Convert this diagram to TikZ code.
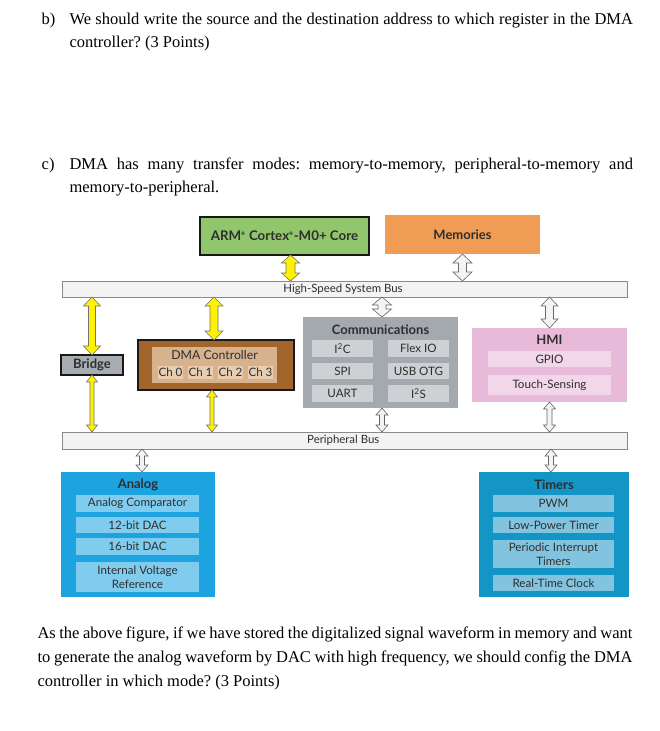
\documentclass[tikz,border=0pt]{standalone}
\usepackage{fontspec}
\setmainfont{Liberation Serif}
\newfontfamily\df{Lato}
\usetikzlibrary{calc}
\definecolor{txt}{HTML}{2E2E2E}
\definecolor{armgreen}{HTML}{92C66C}
\definecolor{memorange}{HTML}{F09C55}
\definecolor{busfill}{HTML}{F3F3F3}
\definecolor{busline}{HTML}{8A8A8A}
\definecolor{ayellow}{HTML}{FFF200}
\definecolor{awhite}{HTML}{F4F4F4}
\definecolor{bridgegray}{HTML}{A8ADB4}
\definecolor{dmabrown}{HTML}{A2652C}
\definecolor{dmainner}{HTML}{D7B28D}
\definecolor{dmach}{HTML}{E8CDB1}
\definecolor{commgray}{HTML}{A4A9AF}
\definecolor{commitem}{HTML}{CED1D4}
\definecolor{hmipink}{HTML}{E6BAD8}
\definecolor{hmiitem}{HTML}{F1D7E9}
\definecolor{analogblue}{HTML}{1CA3E0}
\definecolor{analogitem}{HTML}{80CCEF}
\definecolor{timerblue}{HTML}{1395C6}
\definecolor{timeritem}{HTML}{82C4E0}
\newcommand\biarrow[7]{\path[#1] let \p1=(#2), \p2=(#3), \p3=(#4) in
  (\x1,\y2) -- (\x1+#6,\y2-#7) -- (\x1+#5,\y2-#7) -- (\x1+#5,\y3+#7) -- (\x1+#6,\y3+#7)
  -- (\x1,\y3) -- (\x1-#6,\y3+#7) -- (\x1-#5,\y3+#7) -- (\x1-#5,\y2-#7) -- (\x1-#6,\y2-#7) -- cycle;}
\newcommand\regf{\df\fontsize{11.6}{14}\selectfont}
\newcommand\bldf{\df\bfseries\fontsize{13}{14}\selectfont}
\tikzset{
  blk/.style={anchor=north west, inner sep=0pt, outer sep=0pt, text=txt, align=center, font=\regf},
  box/.style n args={3}{blk, fill=#1, minimum width=#2pt, minimum height=#3pt},
  ttl/.style={inner sep=0pt, text=txt, font=\bldf},
  qtext/.style={anchor=base west, inner sep=0pt, font=\fontsize{16.5}{23.7}\selectfont},
  yel/.style={fill=ayellow, draw=black!55, line width=0.6pt},
  wht/.style={fill=awhite, draw=black!60, line width=0.6pt},
  bus/.style={blk, fill=busfill, draw=busline, line width=0.8pt, minimum width=565pt}
}
\frenchspacing
\begin{document}
\begin{tikzpicture}[x=1pt,y=-1pt]
\useasboundingbox[fill=white] (0,0) rectangle (660,731);

% question texts
\node[qtext] (qb) at (41.5,24) {b)};
\node[qtext] (qb1) at (69.3,24) {\makebox[563.5pt][s]{We should write the source and the destination address to which register in the DMA}};
\node[qtext] (qb2) at (69.3,47.7) {controller? (3 Points)};
\node[qtext] (qc) at (41.5,169) {c)};
\node[qtext] (qc1) at (69.3,169) {\makebox[563.5pt][s]{DMA has many transfer modes: memory-to-memory, peripheral-to-memory and}};
\node[qtext] (qc2) at (69.3,192.7) {memory-to-peripheral.};
\node[qtext] (qd1) at (37.3,638.3) {\makebox[595pt][s]{As the above figure, if we have stored the digitalized signal waveform in memory and want}};
\node[qtext] (qd2) at (37.3,662.3) {\makebox[595pt][s]{to generate the analog waveform by DAC with high frequency, we should config the DMA}};
\node[qtext] (qd3) at (37.3,686.3) {controller in which mode? (3 Points)};

% top blocks
\node[box={armgreen}{169}{38}, draw=black!90, line width=2.5pt, font=\df\bfseries\fontsize{13.3}{14}\selectfont] (arm) at (200,217)
  {ARM\textsuperscript{\tiny ®} Cortex\textsuperscript{\tiny ®}-M0+ Core};
\node[box={memorange}{155}{39}, font=\bldf] (mem) at (385,215) {Memories};

% buses
\node[bus, minimum height=16pt] (hsb) at (62,281) {};
\node[text=txt, font=\df\fontsize{11.4}{12}\selectfont, inner sep=0pt] (hsbl) at (343,289.5) {High-Speed System Bus};
\node[bus, minimum height=17pt] (pb) at (62,432) {};
\node[anchor=west, text=txt, font=\df\fontsize{11.4}{12}\selectfont, inner sep=0pt] (pbl) at (307,440.5) {Peripheral Bus};

% bridge
\node[box={bridgegray}{62}{20}, draw=black!90, line width=2pt, font=\bldf] (bridge) at (61,355) {Bridge};

% DMA controller
\node[box={dmabrown}{156}{50}, draw=black!90, line width=2pt] (dma) at (138,340) {};
\node[box={dmainner}{125}{36}] (dmain) at (152,347) {};
\node[ttl, font=\df\fontsize{12.3}{13}\selectfont] (dmat) at (214.5,355) {DMA Controller};
\node[box={dmach}{25}{13}] (ch0) at (158,366) {Ch 0};
\node[box={dmach}{25}{13}] (ch1) at (188,366) {Ch 1};
\node[box={dmach}{25}{13}] (ch2) at (218,366) {Ch 2};
\node[box={dmach}{25}{13}] (ch3) at (248,366) {Ch 3};

% communications
\node[box={commgray}{155}{91}] (comm) at (303,317) {};
\node[ttl] (commt) at (380.5,330) {Communications};
\node[box={commitem}{61}{17}] (i2c) at (312,340) {I\textsuperscript{2}C};
\node[box={commitem}{61}{17}] (flex) at (388,340) {Flex IO};
\node[box={commitem}{61}{16}] (spi) at (312,363) {SPI};
\node[box={commitem}{61}{16}] (usb) at (388,363) {USB OTG};
\node[box={commitem}{61}{17}] (uart) at (312,385) {UART};
\node[box={commitem}{61}{17}] (i2s) at (388,385) {I\textsuperscript{2}S};

% HMI
\node[box={hmipink}{155}{74}] (hmi) at (472,328) {};
\node[ttl] (hmit) at (549.5,340) {HMI};
\node[box={hmiitem}{123}{16}] (gpio) at (488,351) {GPIO};
\node[box={hmiitem}{123}{20}] (touch) at (488,375) {Touch-Sensing};

% analog
\node[box={analogblue}{154}{125}] (analog) at (61,472) {};
\node[ttl] (analogt) at (138,485) {Analog};
\node[box={analogitem}{123}{17}] (comp) at (76,495) {Analog Comparator};
\node[box={analogitem}{123}{16}] (dac12) at (76,517) {12-bit DAC};
\node[box={analogitem}{123}{17}] (dac16) at (76,538) {16-bit DAC};
\node[box={analogitem}{123}{30}] (ivr) at (76,562) {Internal Voltage\\Reference};

% timers
\node[box={timerblue}{150}{125}] (timers) at (479,472) {};
\node[ttl] (timerst) at (554,485) {Timers};
\node[box={timeritem}{121}{17}] (pwm) at (493,495) {PWM};
\node[box={timeritem}{121}{16}] (lpt) at (493,517) {Low-Power Timer};
\node[box={timeritem}{121}{28}] (pit) at (493,540) {Periodic Interrupt\\Timers};
\node[box={timeritem}{121}{16}] (rtc) at (493,575) {Real-Time Clock};

% arrows
\biarrow{yel}{[xshift=6pt]arm.south}{arm.south}{hsb.north}{4.5}{9}{8}
\biarrow{wht}{mem.south}{mem.south}{hsb.north}{4}{9.5}{9}
\biarrow{yel}{bridge.north}{hsb.south}{bridge.north}{3.5}{8.5}{9}
\biarrow{yel}{bridge.south}{bridge.south}{pb.north}{2}{5.5}{7}
\biarrow{yel}{[xshift=-2pt]dma.north}{hsb.south}{dma.north}{4}{9}{9}
\biarrow{yel}{[xshift=-4pt]dma.south}{dma.south}{pb.north}{2}{5.5}{7}
\biarrow{wht}{[xshift=1.5pt]comm.north}{hsb.south}{comm.north}{4}{9.5}{8}
\biarrow{wht}{[xshift=1.5pt]comm.south}{comm.south}{pb.north}{2.5}{6}{7}
\biarrow{wht}{hmi.north}{hsb.south}{hmi.north}{4}{8.5}{9}
\biarrow{wht}{hmi.south}{hmi.south}{pb.north}{2.5}{6}{7}
\biarrow{wht}{[xshift=4pt]analog.north}{pb.south}{analog.north}{2.5}{6}{7}
\biarrow{wht}{[xshift=-3pt]timers.north}{pb.south}{timers.north}{2.5}{6}{7}
\end{tikzpicture}
\end{document}
